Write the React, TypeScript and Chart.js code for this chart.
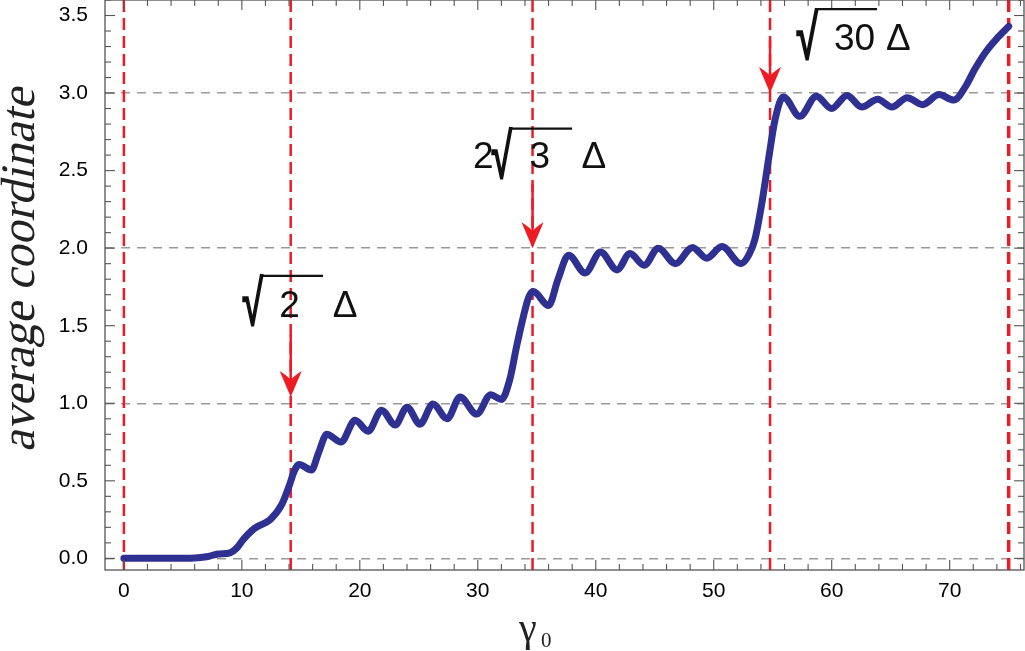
import React, { useEffect, useRef } from 'react';
import { Chart, registerables } from 'chart.js';

Chart.register(...registerables);

// ---- data ----
const gammaValues = [
  0, 2, 4, 6, 7, 8, 9, 9.55, 10.1, 11.1, 12.4, 13.4, 14.07, 14.4, 14.85, 15.9, 16.5, 17.2,
  18.4, 19.6, 20.7, 21.85, 23.0, 24.0, 25.1, 26.2, 27.4, 28.5, 29.9, 31.1, 32.0, 32.7, 33.3,
  33.9, 34.3, 34.7, 36.0, 36.8, 37.7, 39.1, 40.4, 41.8, 42.9, 44.1, 45.3, 46.75, 48.2, 49.4,
  50.7, 52.3, 53.0, 53.5, 54.1, 54.7, 55.2, 55.9, 57.3, 58.7, 60.0, 61.3, 62.55, 63.9, 65.1,
  66.4, 67.7, 69.1, 70.35, 71.4, 72.1, 73.1, 74.1, 75.0,
];
const coordValues = [
  0, 0, 0, 0.002, 0.01, 0.028, 0.036, 0.065, 0.12, 0.195, 0.25, 0.35, 0.48, 0.555, 0.605, 0.57, 0.68, 0.8,
  0.75, 0.89, 0.82, 0.955, 0.86, 0.975, 0.865, 0.995, 0.9, 1.04, 0.93, 1.055, 1.025, 1.15, 1.37,
  1.57, 1.68, 1.72, 1.63, 1.8, 1.955, 1.84, 1.975, 1.86, 1.965, 1.89, 2.0, 1.9, 2.005, 1.935,
  2.01, 1.9, 1.96, 2.06, 2.3, 2.6, 2.83, 2.975, 2.85, 2.98, 2.9, 2.985, 2.91, 2.96, 2.91,
  2.97, 2.925, 2.99, 2.955, 3.05, 3.15, 3.27, 3.36, 3.43,
];

const markerX = [0, 14.142, 34.641, 54.772, 75];
const arrowX = [14.142, 34.641, 54.772];
const arrowTipY = [1.04, 2.0, 3.0];
const arrowTailY = [1.44, 2.41, 3.34];

const labelPrefix = ['', '2', ''];
const labelRadicand = ['2', '3', '30'];
const labelSuffix = ['Δ', 'Δ', 'Δ'];

const xTickValues = [0, 10, 20, 30, 40, 50, 60, 70];
const yTickValues = [0, 0.5, 1, 1.5, 2, 2.5, 3, 3.5];
const gridYValues = [0, 1, 2, 3];

const yTitle = 'average coordinate';
const xTitle = 'γ';
const xTitleSub = '0';

const X_MIN = -1.6;
const X_MAX = 76.3;
const Y_MIN = -0.075;
const Y_MAX = 3.6;

const BLUE = '#2E3192';
const RED = '#ED1C24';
const SERIF = '"Liberation Serif", "Times New Roman", Times, "DejaVu Serif", serif';
const SANS = '"Liberation Sans", Arial, Helvetica, sans-serif';

const decorPlugin = {
  id: 'decor',
  afterDraw(chart: any) {
    const { ctx, chartArea: a } = chart;
    const xs = chart.scales.x;
    const ys = chart.scales.y;
    ctx.save();

    // arrows
    ctx.setLineDash([]);
    ctx.strokeStyle = RED;
    ctx.fillStyle = RED;
    ctx.lineWidth = 2.5;
    arrowX.forEach((xv, i) => {
      const px = xs.getPixelForValue(xv);
      const tip = ys.getPixelForValue(arrowTipY[i]);
      const tail = ys.getPixelForValue(arrowTailY[i]);
      ctx.beginPath();
      ctx.moveTo(px, tail);
      ctx.lineTo(px, tip - 14);
      ctx.stroke();
      ctx.beginPath();
      ctx.moveTo(px, tip);
      ctx.lineTo(px - 11, tip - 26);
      ctx.quadraticCurveTo(px - 3, tip - 21, px, tip - 17);
      ctx.quadraticCurveTo(px + 3, tip - 21, px + 11, tip - 26);
      ctx.closePath();
      ctx.fill();
    });

    // frame + inward ticks
    ctx.strokeStyle = '#555';
    ctx.lineWidth = 1.3;
    ctx.strokeRect(a.left, a.top, a.right - a.left, a.bottom - a.top);
    const seg = (x1: number, y1: number, x2: number, y2: number) => {
      ctx.beginPath();
      ctx.moveTo(x1, y1);
      ctx.lineTo(x2, y2);
      ctx.stroke();
    };
    ctx.lineWidth = 1.1;
    xTickValues.forEach((v) => {
      const p = xs.getPixelForValue(v);
      seg(p, a.bottom, p, a.bottom - 10);
      seg(p, a.top, p, a.top + 10);
    });
    for (let k = 1; k * 2 <= X_MAX; k++) {
      const v = k * 2;
      if (v % 10 === 0) continue;
      const p = xs.getPixelForValue(v);
      seg(p, a.bottom, p, a.bottom - 6);
      seg(p, a.top, p, a.top + 6);
    }
    yTickValues.forEach((v) => {
      const p = ys.getPixelForValue(v);
      seg(a.left, p, a.left + 10, p);
      seg(a.right, p, a.right - 10, p);
    });
    for (let k = 1; k * 0.1 <= Y_MAX; k++) {
      if (k % 5 === 0) continue;
      const p = ys.getPixelForValue(k * 0.1);
      seg(a.left, p, a.left + 6, p);
      seg(a.right, p, a.right - 6, p);
    }

    // annotation labels
    const layouts = [
      { base: 1.557, pre: 0, r0: -47.7, r1: -27.7, top: -42, bot: 10, vend: 32.3, rad: -11.5, suf: 42 },
      { base: 2.519, pre: -59.5, r0: -40.5, r1: -20.5, top: -40, bot: 12, vend: 39.5, rad: -3, suf: 49 },
      { base: 3.277, pre: 0, r0: 27, r1: 48, top: -42, bot: 10, vend: 107, rad: 64, suf: 116 },
    ];
    ctx.fillStyle = '#111';
    ctx.strokeStyle = '#111';
    layouts.forEach((L, i) => {
      const xm = xs.getPixelForValue(arrowX[i]);
      const by = ys.getPixelForValue(L.base);
      ctx.font = '37px ' + SANS;
      ctx.textAlign = 'left';
      ctx.textBaseline = 'alphabetic';
      if (labelPrefix[i]) ctx.fillText(labelPrefix[i], xm + L.pre, by);
      ctx.fillText(labelRadicand[i], xm + L.rad, by);
      ctx.fillText(labelSuffix[i], xm + L.suf, by);
      // radical sign, fitted into the box measured on the reference
      const x0 = xm + L.r0, x1 = xm + L.r1, y0 = by + L.top, y1 = by + L.bot;
      ctx.save();
      ctx.font = '40px ' + SANS;
      const m = ctx.measureText('√');
      const gw = m.actualBoundingBoxLeft + m.actualBoundingBoxRight;
      const gh = m.actualBoundingBoxAscent + m.actualBoundingBoxDescent;
      ctx.translate(x0, y0);
      ctx.scale((x1 - x0) / gw, (y1 - y0) / gh);
      ctx.lineWidth = 1.4;
      ctx.fillText('√', m.actualBoundingBoxLeft, m.actualBoundingBoxAscent);
      ctx.strokeText('√', m.actualBoundingBoxLeft, m.actualBoundingBoxAscent);
      ctx.restore();
      ctx.lineWidth = 2.2;
      seg(x1 - 1, y0 + 1, xm + L.vend, y0 + 1);
    });

    // axis titles (serif, slanted)
    ctx.fillStyle = '#222';
    ctx.save();
    ctx.font = '48px ' + SERIF;
    ctx.translate(34, 270);
    ctx.rotate(-Math.PI / 2);
    ctx.transform(1, 0, -0.22, 1, 0, 0);
    ctx.textAlign = 'center';
    ctx.textBaseline = 'alphabetic';
    ctx.fillText(yTitle, 0, 0);
    ctx.restore();
    ctx.textAlign = 'left';
    ctx.textBaseline = 'alphabetic';
    ctx.font = '40px ' + SERIF;
    ctx.fillText(xTitle, 519, 641);
    ctx.font = '21px ' + SERIF;
    ctx.fillText(xTitleSub, 541, 647);

    ctx.restore();
  },
};

export default function App() {
  const ref = useRef<HTMLCanvasElement>(null);
  useEffect(() => {
    const canvas = ref.current;
    if (!canvas) return;
    const curve = gammaValues.map((g, i) => ({ x: g, y: coordValues[i] }));
    const redSets = markerX.map((xv, i) => ({
      data: [
        { x: xv, y: Y_MIN },
        { x: xv, y: Y_MAX },
      ],
      borderColor: RED,
      borderWidth: i === markerX.length - 1 ? 3.5 : 2.5,
      borderDash: [12, 6],
      pointRadius: 0,
      fill: false,
    }));
    const chart = new Chart(canvas, {
      type: 'line',
      data: {
        datasets: [
          {
            data: curve,
            borderColor: BLUE,
            borderWidth: 7,
            pointRadius: 0,
            cubicInterpolationMode: 'monotone',
            borderCapStyle: 'round',
            borderJoinStyle: 'round',
            fill: false,
          } as any,
          ...(redSets as any[]),
        ],
      },
      options: {
        animation: false,
        responsive: false,
        devicePixelRatio: 1,
        layout: { padding: { left: 0, right: 1, top: 0, bottom: 0 } },
        plugins: { legend: { display: false }, tooltip: { enabled: false }, title: { display: false } },
        scales: {
          x: {
            type: 'linear',
            min: X_MIN,
            max: X_MAX,
            afterBuildTicks: (s: any) => {
              s.ticks = xTickValues.map((v) => ({ value: v }));
            },
            afterFit: (s: any) => {
              s.height = 81;
              s.paddingLeft = 0;
              s.paddingRight = 0;
            },
            ticks: {
              autoSkip: false,
              maxRotation: 0,
              padding: 9,
              color: '#000',
              font: { family: 'Liberation Sans', size: 21 },
              callback: (v: any) => String(v),
            },
            grid: { display: false, drawTicks: false },
            border: { display: false },
          },
          y: {
            type: 'linear',
            min: Y_MIN,
            max: Y_MAX,
            afterBuildTicks: (s: any) => {
              s.ticks = yTickValues.map((v) => ({ value: v }));
            },
            afterFit: (s: any) => {
              s.width = 105;
              s.paddingTop = 0;
              s.paddingBottom = 0;
            },
            ticks: {
              autoSkip: false,
              padding: 17,
              color: '#000',
              font: { family: 'Liberation Sans', size: 21 },
              callback: (v: any) => Number(v).toFixed(1),
            },
            grid: {
              drawTicks: false,
              lineWidth: 1.5,
              color: (c: any) =>
                c.tick && gridYValues.includes(c.tick.value) ? '#9a9a9a' : 'rgba(0,0,0,0)',
            },
            border: { display: false, dash: [9, 7] },
          },
        },
      } as any,
      plugins: [decorPlugin],
    });
    return () => chart.destroy();
  }, []);
  return (
    <div style={{ position: 'absolute', left: 0, top: 0, width: 1025, height: 651, background: '#fff' }}>
      <canvas ref={ref} width={1025} height={651} style={{ display: 'block' }} />
    </div>
  );
}
